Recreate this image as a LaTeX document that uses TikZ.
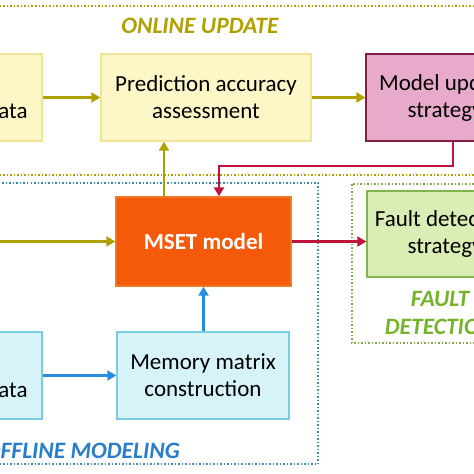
\documentclass[tikz,border=0pt]{standalone}
\usepackage{fontspec}
\setmainfont{Carlito}
\usetikzlibrary{arrows.meta,calc}
\definecolor{olivec}{RGB}{176,160,0}
\definecolor{ylfill}{RGB}{253,246,198}
\definecolor{yldraw}{RGB}{240,228,150}
\definecolor{pkfill}{RGB}{232,170,202}
\definecolor{pkdraw}{RGB}{130,30,70}
\definecolor{redc}{RGB}{192,20,60}
\definecolor{msetfill}{RGB}{245,90,10}
\definecolor{msetdraw}{RGB}{240,120,40}
\definecolor{bluec}{RGB}{40,140,225}
\definecolor{bluetxt}{RGB}{40,125,205}
\definecolor{bluedot}{RGB}{60,140,170}
\definecolor{cyfill}{RGB}{214,243,250}
\definecolor{cydraw}{RGB}{120,205,225}
\definecolor{grfill}{RGB}{217,237,180}
\definecolor{grdraw}{RGB}{130,180,80}
\definecolor{grtxt}{RGB}{118,179,43}
\definecolor{grdot}{RGB}{130,170,70}
\tikzset{
  boxbase/.style={rectangle, line width=1.3pt, align=center, font=\fontsize{23}{27}\selectfont, inner sep=0pt},
  ybox/.style={boxbase, fill=ylfill, draw=yldraw},
  pbox/.style={boxbase, fill=pkfill, draw=pkdraw},
  cbox/.style={boxbase, fill=cyfill, draw=cydraw},
  gbox/.style={boxbase, fill=grfill, draw=grdraw},
  mbox/.style={boxbase, fill=msetfill, draw=msetdraw, text=white, font=\fontsize{23}{27}\selectfont\bfseries},
  tiparrow/.style={line width=2.2pt, -{Triangle[width=10pt,length=9pt]}},
  oarrow/.style={tiparrow, draw=olivec},
  rarrow/.style={tiparrow, draw=redc},
  barrow/.style={tiparrow, draw=bluec},
  grouptitle/.style={font=\fontsize{23.5}{28}\selectfont\bfseries\itshape, align=center, inner sep=0pt},
  dotline/.style={line width=1.3pt, dash pattern=on 1.5pt off 2pt}
}
\begin{document}
\begin{tikzpicture}[x=1pt,y=-1pt]
\useasboundingbox (0,0) rectangle (474,474);
\clip (0,0) rectangle (474,474);
\fill[white] (0,0) rectangle (474,474);
% group frames
\draw[dotline, olivec] (-10,6) rectangle (490,175);
\draw[dotline, bluedot] (-10,183) rectangle (318,464);
\draw[dotline, grdot] (352,184) rectangle (490,343);
% titles
\node[grouptitle, text=olivec] (tonline) at (200,26) {ONLINE UPDATE};
\node[grouptitle, text=bluetxt, anchor=base east] (toffline) at (180,458) {OFFLINE MODELING};
\node[grouptitle, text=grtxt] (tfault) at (440,313) {FAULT\\DETECTION};
% boxes
\node[ybox, minimum width=142pt, minimum height=87pt] (data1) at (-29,97.5) {};
\node[anchor=base, font=\fontsize{23}{27}\selectfont] (data1t) at (7,118) {data};
\node[ybox, minimum width=210pt, minimum height=87pt] (pred) at (206,97.5) {Prediction accuracy\\assessment};
\node[pbox, minimum width=158pt, minimum height=87pt] (model) at (445,97.5) {Model update\\strategy};
\node[mbox, minimum width=175pt, minimum height=89pt] (mset) at (203.5,241.5) {MSET model};
\node[gbox, minimum width=156pt, minimum height=86pt] (fault) at (445,234) {Fault detection\\strategy};
\node[cbox, minimum width=142pt, minimum height=87pt] (data2) at (-29,375.5) {};
\node[anchor=base, font=\fontsize{23}{27}\selectfont] (data2t) at (7,397) {data};
\node[cbox, minimum width=172pt, minimum height=87pt] (mem) at (203,375.5) {Memory matrix\\construction};
\coordinate (in1) at (-10,241.5);
% connectors
\draw[oarrow] (data1) -- (pred);
\draw[oarrow] (pred) -- (model);
\draw[oarrow] ([xshift=-39.5pt]mset.north) -- ([xshift=-39.5pt]mset.north |- pred.south);
\draw[rarrow] ([xshift=8pt]model.south) -- ++(0,24) -| ([xshift=15.5pt]mset.north);
\draw[oarrow] (in1) -- (mset);
\draw[rarrow] (mset) -- (mset -| fault.west);
\draw[barrow] (mem.north -| mset.south) -- (mset.south);
\draw[barrow] (data2) -- (mem);
\end{tikzpicture}
\end{document}
